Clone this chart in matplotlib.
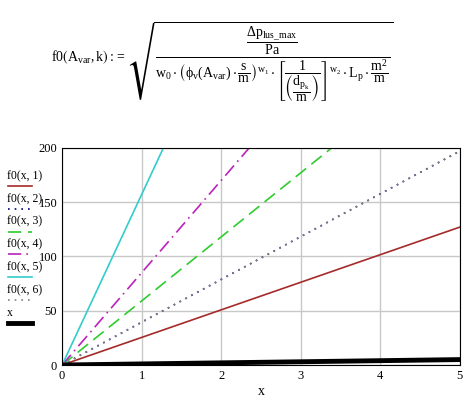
import matplotlib
matplotlib.use("Agg")
import matplotlib.pyplot as plt
from matplotlib.lines import Line2D
import numpy as np

plt.rcParams['font.family'] = 'Liberation Serif'
plt.rcParams['mathtext.fontset'] = 'stix'
plt.rcParams['mathtext.default'] = 'regular'

# slopes (value at x = 1)
series_labels = ["f0(x, 1)", "f0(x, 2)", "f0(x, 3)", "f0(x, 4)", "f0(x, 5)", "f0(x, 6)", "x"]
slopes = [25.4, 39.4, 59.0, 85.0, 157.0, 39.4, 1.0]
colors = ["#a52a2a", "#000080", "#2ecc2e", "#bb22bb", "#33cccc", "#808080", "black"]
styles = ["-", (0, (1, 3)), (0, (8, 4)), (0, (8, 3, 1, 3)), "-", (0, (1, 3)), "-"]
widths = [1.2, 1.2, 1.2, 1.2, 1.2, 1.2, 3.5]

x = np.linspace(0, 5, 201)
W, H = 474, 404

fig = plt.figure(figsize=(4.74, 4.04), dpi=100)
ax = fig.add_axes([0.131, 0.0965, 0.839, 0.5375])
for lab, k, c, ls, lw in zip(series_labels, slopes, colors, styles, widths):
    ax.plot(x, k * x, color=c, linestyle=ls, linewidth=lw)

ax.set_xlim(0, 5)
ax.set_ylim(0, 200)
ax.set_xticks([0, 1, 2, 3, 4, 5])
ax.set_yticks([0, 50, 100, 150, 200])
ax.grid(True, color="#c8c8c8", linewidth=1)
ax.tick_params(length=0, labelsize=9)
ax.set_xlabel("x", fontsize=10, labelpad=2)
for s in ax.spines.values():
    s.set_linewidth(0.8)

# Mathcad-style legend: label above a line sample, left of the plot
for i, (lab, c, ls, lw) in enumerate(zip(series_labels, colors, styles, widths)):
    ty = 176 + i * 22.8
    fig.text(7 / W, 1 - ty / H, lab, fontsize=8.5, va="center", ha="left")
    fig.add_artist(Line2D([8 / W, 32 / W], [1 - (ty + 10) / H] * 2, color=c,
                          linestyle=ls, linewidth=lw, transform=fig.transFigure))

formula = (r"$f0\left(A_{var},k\right) := "
           r"\sqrt{\dfrac{\dfrac{\Delta p_{lus\_max}}{Pa}}"
           r"{w_0\cdot\left(\phi_v(A_{var})\cdot\dfrac{s}{m}\right)^{w_1}\cdot"
           r"\left[\dfrac{1}{\left(\dfrac{d_{p_k}}{m}\right)}\right]^{w_2}\cdot L_p\cdot\dfrac{m^2}{m}}}$")
fig.text(0.47, 0.845, formula, ha="center", va="center", fontsize=10)

fig.savefig("out.png", dpi=100)
